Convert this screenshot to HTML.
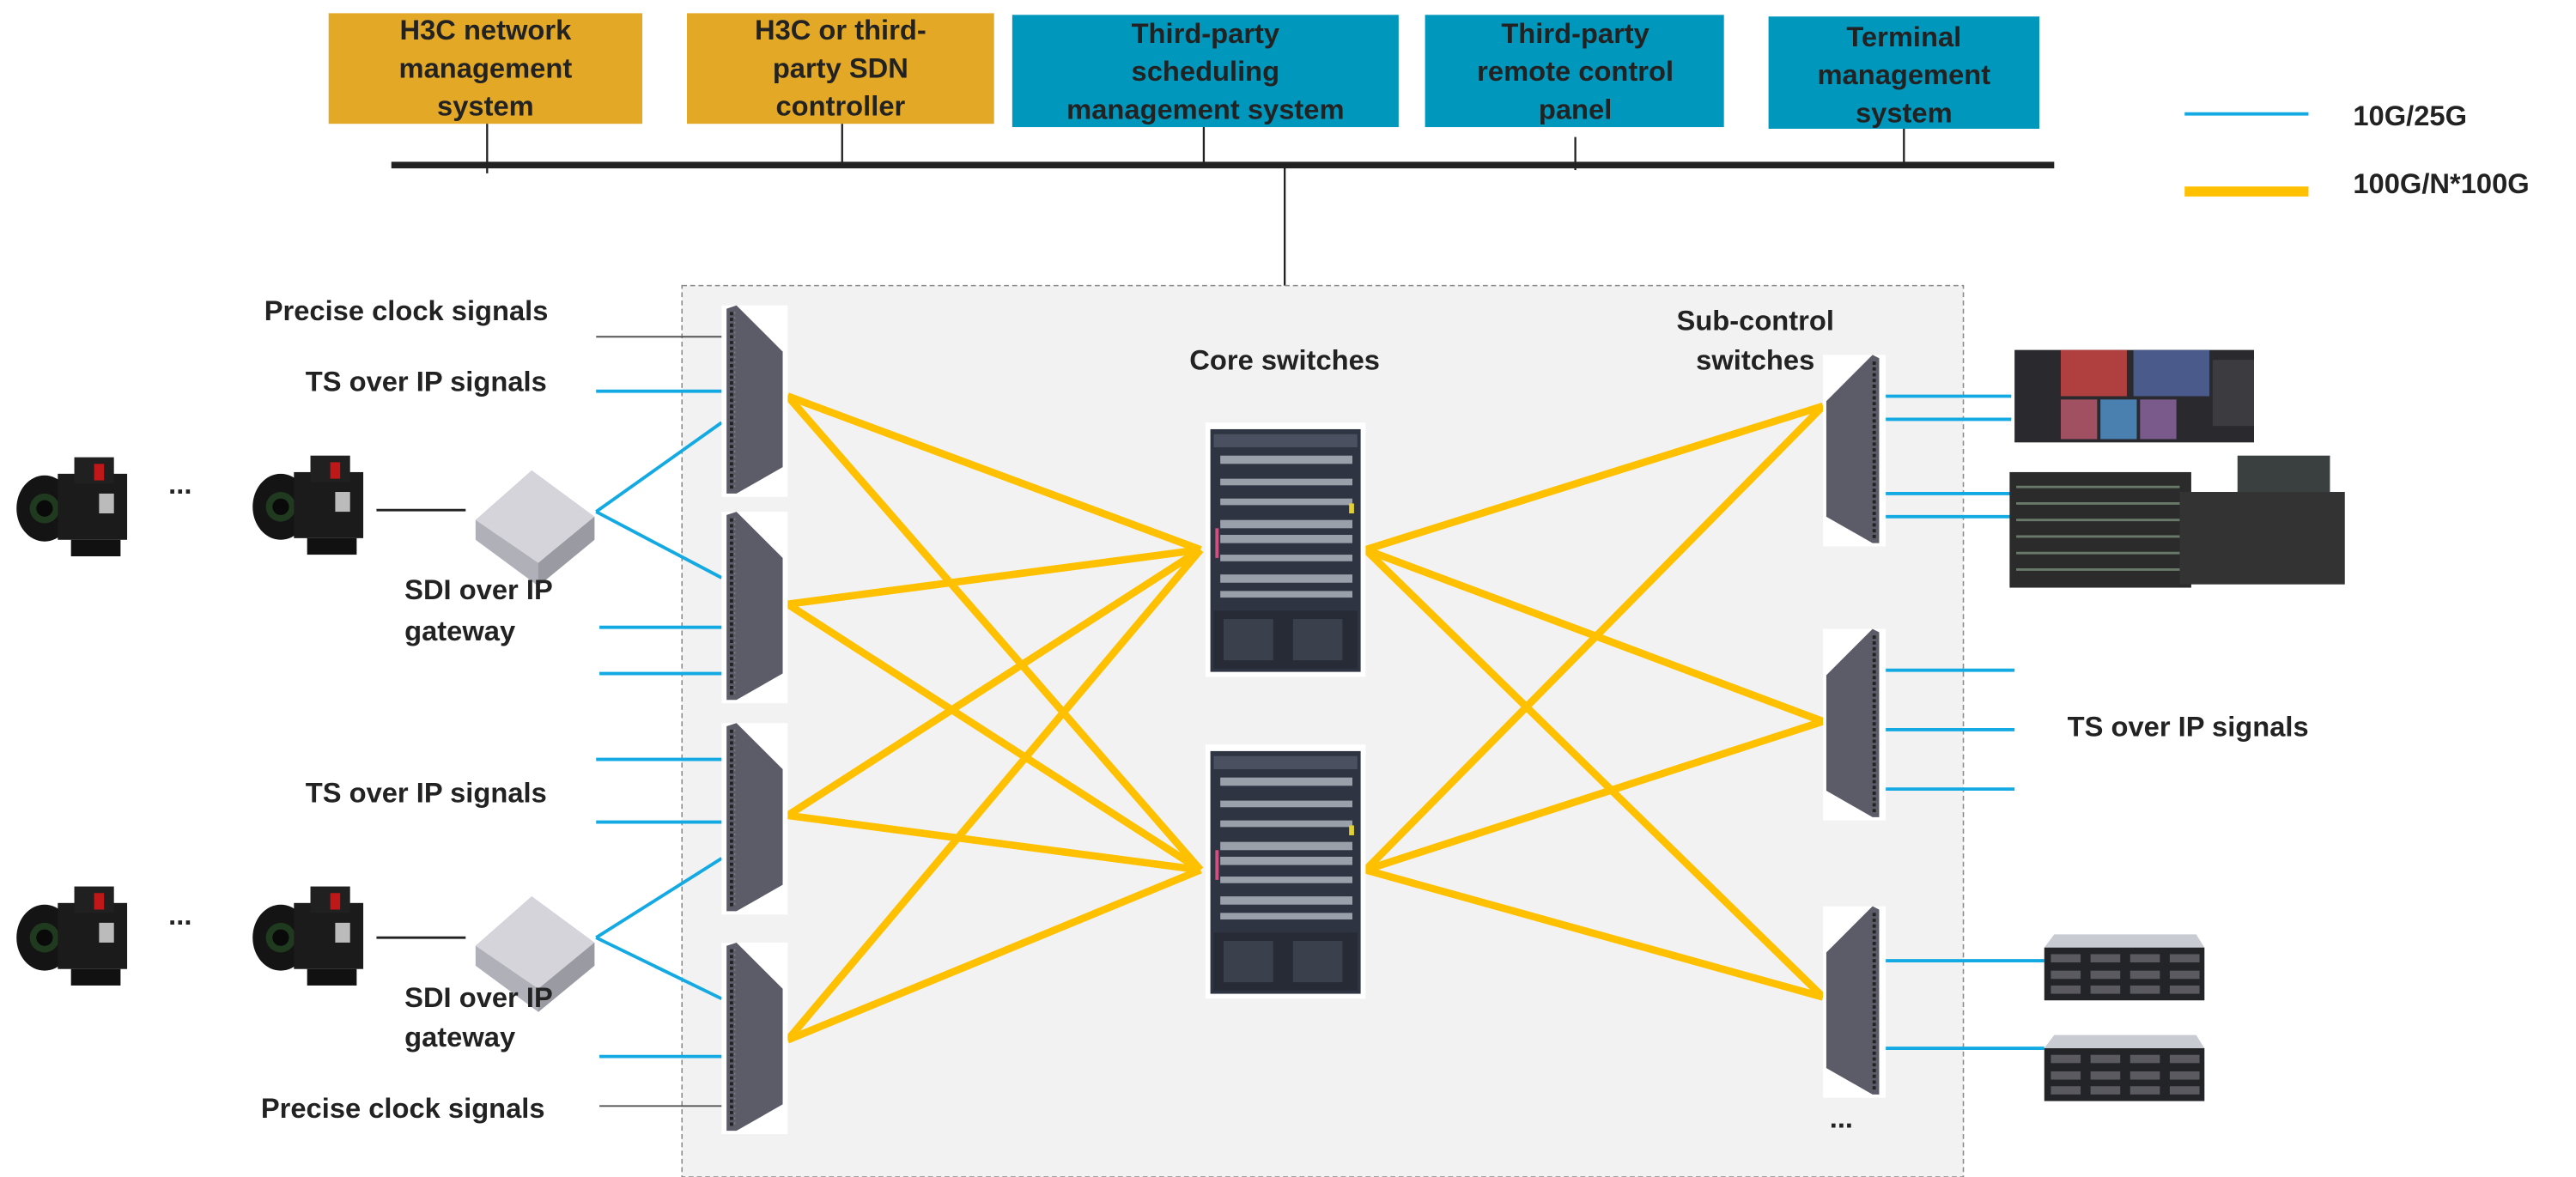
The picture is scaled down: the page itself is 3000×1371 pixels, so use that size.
<!DOCTYPE html>
<html><head><meta charset="utf-8"><style>
html,body{margin:0;padding:0;background:#fff}
svg{display:block}
text{font-family:"Liberation Sans",Arial,sans-serif;font-weight:bold;fill:#222}
</style></head><body>
<svg width="3000" height="1371" viewBox="0 0 1560 713" preserveAspectRatio="none" xmlns="http://www.w3.org/2000/svg">
<defs>
<g id="sw">
<rect x="0" y="0" width="40" height="116" fill="#fff"/>
<polygon points="3,2 9,0 37,28 37,98 9,114 3,114" fill="#5c5b68"/>
<line x1="6" y1="4" x2="6" y2="112" stroke="#222" stroke-width="2" stroke-dasharray="2,1.5"/>
<line x1="8" y1="4" x2="8" y2="112" stroke="#888" stroke-width="0.6" stroke-dasharray="1,2"/>
</g>
<g id="rsw">
<rect x="0" y="0" width="38" height="116" fill="#fff"/>
<polygon points="34,2 30,0 2,28 2,98 30,114 34,114" fill="#5c5b68"/>
<line x1="31" y1="4" x2="31" y2="112" stroke="#222" stroke-width="2" stroke-dasharray="2,1.5"/>
</g>
<g id="core">
<rect x="-3" y="-4" width="97" height="154" fill="#fff"/>
<rect x="0" y="0" width="91" height="147" fill="#2e3442"/>
<rect x="2" y="3" width="87" height="8" fill="#4a5060"/>
<g fill="#9aa0aa">
<rect x="6" y="16" width="80" height="5"/><rect x="6" y="30" width="80" height="4"/>
<rect x="6" y="42" width="80" height="4"/><rect x="6" y="55" width="80" height="5"/>
<rect x="6" y="64" width="80" height="5"/><rect x="6" y="76" width="80" height="4"/>
<rect x="6" y="88" width="80" height="5"/><rect x="6" y="98" width="80" height="4"/>
</g>
<rect x="3" y="60" width="2" height="18" fill="#d05080"/>
<rect x="84" y="45" width="3" height="6" fill="#e0d030"/>
<rect x="2" y="110" width="87" height="35" fill="#262b36"/>
<rect x="8" y="115" width="30" height="25" fill="#3a404c"/><rect x="50" y="115" width="30" height="25" fill="#3a404c"/>
</g>
<g id="cam">
<ellipse cx="22" cy="33" rx="17" ry="20" fill="#141414"/>
<circle cx="22" cy="33" r="9" fill="#1f3a1f"/>
<circle cx="22" cy="33" r="5" fill="#0a0a0a"/>
<rect x="30" y="12" width="42" height="40" fill="#1b1b1b"/>
<rect x="40" y="2" width="24" height="16" fill="#202020"/>
<rect x="52" y="6" width="6" height="10" fill="#c01818"/>
<rect x="38" y="52" width="30" height="10" fill="#111"/>
<rect x="55" y="24" width="9" height="12" fill="#bbb"/>
</g>
<g id="gw">
<polygon points="0,30 34,0 72,28 72,42 38,70 0,42" fill="#b0b0b8"/>
<polygon points="0,30 34,0 72,28 38,56" fill="#d4d4da"/>
<polygon points="38,56 72,28 72,42 38,70" fill="#9a9aa2"/>
</g>
<g id="srv">
<polygon points="6,0 92,0 97,8 0,8" fill="#c8ccd2"/>
<rect x="0" y="8" width="97" height="32" fill="#232428"/>
<g fill="#5a5a60"><rect x="4" y="12" width="18" height="5"/><rect x="28" y="12" width="18" height="5"/><rect x="52" y="12" width="18" height="5"/><rect x="76" y="12" width="18" height="5"/>
<rect x="4" y="22" width="18" height="5"/><rect x="28" y="22" width="18" height="5"/><rect x="52" y="22" width="18" height="5"/><rect x="76" y="22" width="18" height="5"/>
<rect x="4" y="31" width="18" height="5"/><rect x="28" y="31" width="18" height="5"/><rect x="52" y="31" width="18" height="5"/><rect x="76" y="31" width="18" height="5"/></g>
</g>
</defs>

<rect x="199" y="8" width="190" height="67" fill="#e3a826"/>
<rect x="416" y="8" width="186" height="67" fill="#e3a826"/>
<rect x="613" y="9" width="234" height="68" fill="#0097bd"/>
<rect x="863" y="9" width="181" height="68" fill="#0097bd"/>
<rect x="1071" y="10" width="164" height="68" fill="#0097bd"/>
<g font-size="17" text-anchor="middle">
<text x="294" y="24">H3C network</text><text x="294" y="47">management</text><text x="294" y="70">system</text>
<text x="509" y="24">H3C or third-</text><text x="509" y="47">party SDN</text><text x="509" y="70">controller</text>
<text x="730" y="26">Third-party</text><text x="730" y="49">scheduling</text><text x="730" y="72">management system</text>
<text x="954" y="26">Third-party</text><text x="954" y="49">remote control</text><text x="954" y="72">panel</text>
<text x="1153" y="28">Terminal</text><text x="1153" y="51">management</text><text x="1153" y="74">system</text>
</g>
<g stroke="#222" stroke-width="1.2">
<line x1="295" y1="75" x2="295" y2="105"/><line x1="510" y1="75" x2="510" y2="100"/>
<line x1="729" y1="77" x2="729" y2="100"/><line x1="954" y1="83" x2="954" y2="103"/>
<line x1="1153" y1="78" x2="1153" y2="100"/><line x1="778" y1="100" x2="778" y2="174"/>
</g>
<rect x="237" y="98" width="1007" height="4" fill="#222"/>
<line x1="1323" y1="69" x2="1398" y2="69" stroke="#13aae3" stroke-width="2"/>
<text x="1425" y="76" font-size="17">10G/25G</text>
<line x1="1323" y1="116" x2="1398" y2="116" stroke="#ffc000" stroke-width="6"/>
<text x="1425" y="117" font-size="17">100G/N*100G</text>

<rect x="413" y="173" width="776" height="540" fill="#f2f2f2" stroke="#888" stroke-width="0.8" stroke-dasharray="3,2"/>

<g stroke="#ffc000" stroke-width="4.5" fill="none" stroke-linejoin="round">
<path d="M477,240 L727,333 M477,240 L727,527 M477,366 L727,333 M477,366 L727,527 M477,494 L727,333 M477,494 L727,527 M477,630 L727,333 M477,630 L727,527"/>
<path d="M827,333 L1104,246 M827,333 L1104,437 M827,333 L1104,604 M827,527 L1104,246 M827,527 L1104,437 M827,527 L1104,604"/>
</g>

<g stroke="#13aae3" stroke-width="2">
<line x1="361" y1="237" x2="437" y2="237"/>
<line x1="361" y1="310" x2="437" y2="256"/><line x1="361" y1="310" x2="437" y2="350"/>
<line x1="363" y1="380" x2="437" y2="380"/><line x1="363" y1="408" x2="437" y2="408"/>
<line x1="361" y1="460" x2="437" y2="460"/><line x1="361" y1="498" x2="437" y2="498"/>
<line x1="361" y1="568" x2="437" y2="520"/><line x1="361" y1="568" x2="437" y2="605"/>
<line x1="363" y1="640" x2="437" y2="640"/>
<line x1="1141" y1="240" x2="1218" y2="240"/><line x1="1141" y1="254" x2="1218" y2="254"/>
<line x1="1141" y1="299" x2="1218" y2="299"/><line x1="1141" y1="313" x2="1218" y2="313"/>
<line x1="1141" y1="406" x2="1220" y2="406"/><line x1="1141" y1="442" x2="1220" y2="442"/><line x1="1141" y1="478" x2="1220" y2="478"/>
<line x1="1141" y1="582" x2="1238" y2="582"/><line x1="1141" y1="635" x2="1238" y2="635"/>
</g>
<g stroke="#555" stroke-width="1">
<line x1="361" y1="204" x2="437" y2="204"/><line x1="363" y1="670" x2="437" y2="670"/>
</g>
<g stroke="#222" stroke-width="1.5">
<line x1="228" y1="309" x2="282" y2="309"/><line x1="228" y1="568" x2="282" y2="568"/>
</g>

<use href="#sw" x="437" y="185"/>
<use href="#sw" x="437" y="310"/>
<use href="#sw" x="437" y="438"/>
<use href="#sw" x="437" y="571"/>
<use href="#rsw" x="1104" y="215"/>
<use href="#rsw" x="1104" y="381"/>
<use href="#rsw" x="1104" y="549"/>
<use href="#core" x="733" y="260"/>
<use href="#core" x="733" y="455"/>

<use href="#cam" x="5" y="275"/>
<use href="#cam" x="148" y="274"/>
<use href="#cam" x="5" y="535"/>
<use href="#cam" x="148" y="535"/>
<use href="#gw" x="288" y="285"/>
<use href="#gw" x="288" y="543"/>

<rect x="1220" y="212" width="145" height="56" fill="#2a2a2e"/>
<rect x="1248" y="212" width="40" height="28" fill="#b04040"/><rect x="1292" y="212" width="46" height="28" fill="#4a5a8a"/>
<rect x="1248" y="242" width="22" height="24" fill="#a05060"/><rect x="1272" y="242" width="22" height="24" fill="#4a80b0"/><rect x="1296" y="242" width="22" height="24" fill="#7a5a8a"/>
<rect x="1340" y="218" width="25" height="40" fill="#3c3c40"/>
<rect x="1355" y="276" width="56" height="22" fill="#3a4040"/>
<rect x="1217" y="286" width="110" height="70" fill="#2b2b2b"/>
<rect x="1320" y="298" width="100" height="56" fill="#333"/>
<g stroke="#6a7a6a" stroke-width="1.5"><line x1="1221" y1="295" x2="1320" y2="295"/><line x1="1221" y1="305" x2="1320" y2="305"/><line x1="1221" y1="315" x2="1320" y2="315"/><line x1="1221" y1="325" x2="1320" y2="325"/><line x1="1221" y1="335" x2="1320" y2="335"/><line x1="1221" y1="345" x2="1320" y2="345"/></g>
<use href="#srv" x="1238" y="566"/>
<use href="#srv" x="1238" y="627"/>

<g font-size="17">
<text x="160" y="194">Precise clock signals</text>
<text x="185" y="237">TS over IP signals</text>
<text x="245" y="363">SDI over IP</text><text x="245" y="388">gateway</text>
<text x="185" y="486">TS over IP signals</text>
<text x="245" y="610">SDI over IP</text><text x="245" y="634">gateway</text>
<text x="158" y="677">Precise clock signals</text>
<text x="778" y="224" text-anchor="middle">Core switches</text>
<text x="1063" y="200" text-anchor="middle">Sub-control</text><text x="1063" y="224" text-anchor="middle">switches</text>
<text x="1252" y="446">TS over IP signals</text>
<text x="102" y="299">...</text><text x="102" y="560">...</text>
<text x="1108" y="683">...</text>
</g>
</svg>
</body></html>
